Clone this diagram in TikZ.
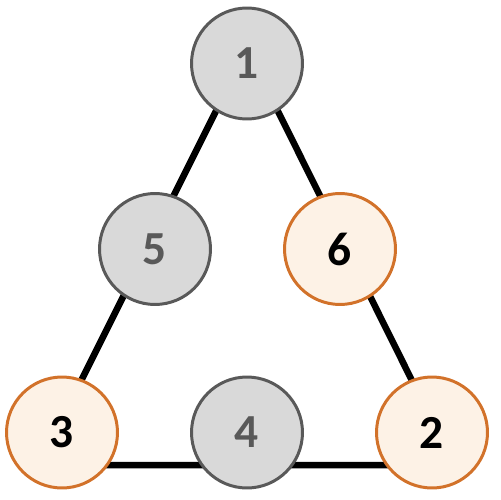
\documentclass[tikz,border=0pt]{standalone}
\usepackage{fontspec}
\setsansfont{Carlito}
\usepackage{xcolor}
\usepackage{tikz}
\usetikzlibrary{calc}
\definecolor{nodegray}{HTML}{D9D9D9}
\definecolor{edgegray}{HTML}{595959}
\definecolor{nodeorange}{HTML}{FDF2E6}
\definecolor{edgeorange}{HTML}{D2722A}

\begin{document}
\begin{tikzpicture}[x=0.02cm,y=-0.02cm,
    grayball/.style={circle,draw=edgegray,fill=nodegray,line width=1.7pt,minimum size=2.22cm,inner sep=0pt,text=edgegray,font=\sffamily\bfseries\fontsize{27}{30}\selectfont},
    orangeball/.style={grayball,draw=edgeorange,fill=nodeorange,text=black}]
  \useasboundingbox (0,0) rectangle (500,500);
  \coordinate (top) at (247,49);
  \coordinate (bl) at (39,465);
  \coordinate (br) at (454,465);
  \draw[line width=3.7pt] (top) -- (bl) -- (br) -- cycle;
  \node[grayball] (n1) at (247,63.5) {1};
  \node[grayball] (n5) at (155,249) {5};
  \node[orangeball] (n6) at (340,249) {6};
  \node[orangeball] (n3) at (62,432.5) {3};
  \node[grayball] (n4) at (247,432.5) {4};
  \node[orangeball] (n2) at (432,432.5) {2};
\end{tikzpicture}
\end{document}
